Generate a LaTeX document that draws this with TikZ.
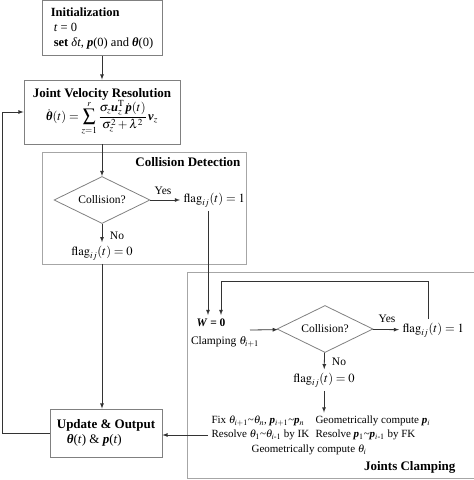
\documentclass[tikz,border=0pt]{standalone}
\usepackage{amsmath}
\usepackage{mathptmx}
\usepackage{fontspec}
\setmainfont{Liberation Serif}
\usetikzlibrary{shapes.geometric}
\tikzset{>=latex}
\newcommand{\bvar}[1]{\textbf{\textit{#1}}}
\newcommand{\lblfont}{\fontsize{11.5}{13.5}\selectfont}
\newcommand{\stepfont}{\fontsize{11}{13}\selectfont}

\begin{document}
\begin{tikzpicture}[x=1pt,y=-1pt,
    every node/.style={font=\fontsize{13}{15.5}\selectfont},
    box/.style={draw=black!50,line width=0.8pt,inner sep=4pt},
    dec/.style={diamond,draw=black!50,line width=0.8pt,aspect=2,inner sep=1pt,
        minimum width=96pt,minimum height=47pt,font=\lblfont},
    lbl/.style={font=\lblfont},
    flag/.style={font=\fontsize{12.5}{15}\selectfont},
    steptext/.style={font=\stepfont},
    group/.style={draw=black!35,line width=0.9pt},
    arr/.style={->,draw=black!80,line width=0.8pt}]
    \useasboundingbox (0,0) rectangle (474,480);
    % frames
    \draw[group] (42,152) rectangle (246,264);
    \draw[group] (187,272) rectangle (490,478);
    \node[anchor=east] (cdt) at (244,162) {\textbf{Collision Detection}};
    \node[anchor=east] (jct) at (459,467) {\textbf{Joints Clamping}};
    % main column
    \node[box,minimum width=120pt,minimum height=55pt,align=left,
        font=\fontsize{12.5}{15}\selectfont] (init) at (102,28)
        {\textbf{Initialization}\\ \hspace*{3pt}\textit{t} = 0\\ \hspace*{3pt}\textbf{set} \textit{δt}, \bvar{p}(0) and \bvar{θ}(0)};
    \node[box,minimum width=156pt,minimum height=64pt,align=center] (jvr) at (102,112)
        {\textbf{Joint Velocity Resolution}\\[-1pt]
        {\fontsize{12.5}{14}\selectfont$\displaystyle\dot{\bvar{θ}}(t)=\sum_{z=1}^{r}\frac{\sigma_z\bvar{u}_z^{\mathrm{T}}\,\dot{\bvar{p}}(t)}{\sigma_z^2+\lambda^2}\,\bvar{v}_z$}};
    \node[dec] (colA) at (102,200) {Collision?};
    \node[flag,anchor=west] (flagA) at (180,200) {$\mathrm{flag}_{ij}(t)=1$};
    \node[flag] (flagB) at (102,253) {$\mathrm{flag}_{ij}(t)=0$};
    \node[lbl] (yesA) at (163,191) {Yes};
    \node[lbl] (noA) at (117,236) {No};
    \node[box,minimum width=112pt,minimum height=48pt,align=left] (upd) at (106,433)
        {\textbf{Update \& Output}\\ \hspace*{10pt}\bvar{θ}(\textit{t}) \& \bvar{p}(\textit{t})};
    % joints clamping
    \node[lbl] (wz) at (211,323) {\bvar{W}\textbf{ = 0}};
    \node[lbl] (cl) at (225,342) {Clamping $\theta_{i+1}$};
    \coordinate (wA) at (208,315);
    \coordinate (wB) at (221,315);
    \coordinate (lp) at (221,281);
    \coordinate (ci) at (250,330);
    \node[dec] (colB) at (325,329) {Collision?};
    \node[flag,anchor=west] (flagC) at (399,330) {$\mathrm{flag}_{ij}(t)=1$};
    \node[flag] (flagD) at (324,380) {$\mathrm{flag}_{ij}(t)=0$};
    \node[lbl] (yesB) at (387,319) {Yes};
    \node[lbl] (noB) at (339,362) {No};
    \node[steptext,anchor=west] (fixr) at (208,421) {Fix $\theta_{i+1}$\textasciitilde$\theta_n$, \bvar{p}$_{i+1}$\textasciitilde\bvar{p}$_n$};
    \node[steptext,anchor=west] (geop) at (312,421) {Geometrically compute \bvar{p}$_i$};
    \node[steptext,anchor=west] (resr) at (208,435) {Resolve $\theta_1$\textasciitilde$\theta_{i\text{-}1}$ by IK};
    \node[steptext,anchor=west] (resp) at (312,435) {Resolve \bvar{p}$_1$\textasciitilde\bvar{p}$_{i\text{-}1}$ by FK};
    \node[steptext] (geot) at (309,450) {Geometrically compute $\theta_i$};
    \coordinate (fb) at (2,433);
    % arrows
    \draw[arr] (init) -- (jvr);
    \draw[arr] (jvr) -- (colA);
    \draw[arr] (colA) -- (flagA);
    \draw[arr] (colA) -- (flagB);
    \draw[arr] (flagB) -- (flagB |- upd.north);
    \draw[arr] (flagA.south -| wA) -- (wA);
    \draw[arr] ([xshift=-5pt]flagC.north) |- (lp) -- (wB);
    \draw[arr] (ci) -- (colB);
    \draw[arr] (colB) -- (flagC);
    \draw[arr] (colB) -- (flagD);
    \draw[arr] (flagD) -- (flagD |- fixr.north);
    \draw[arr] (resr.west) -- (resr.west -| upd.east);
    \draw[arr] (upd) -- (fb) |- (jvr);
\end{tikzpicture}
\end{document}
